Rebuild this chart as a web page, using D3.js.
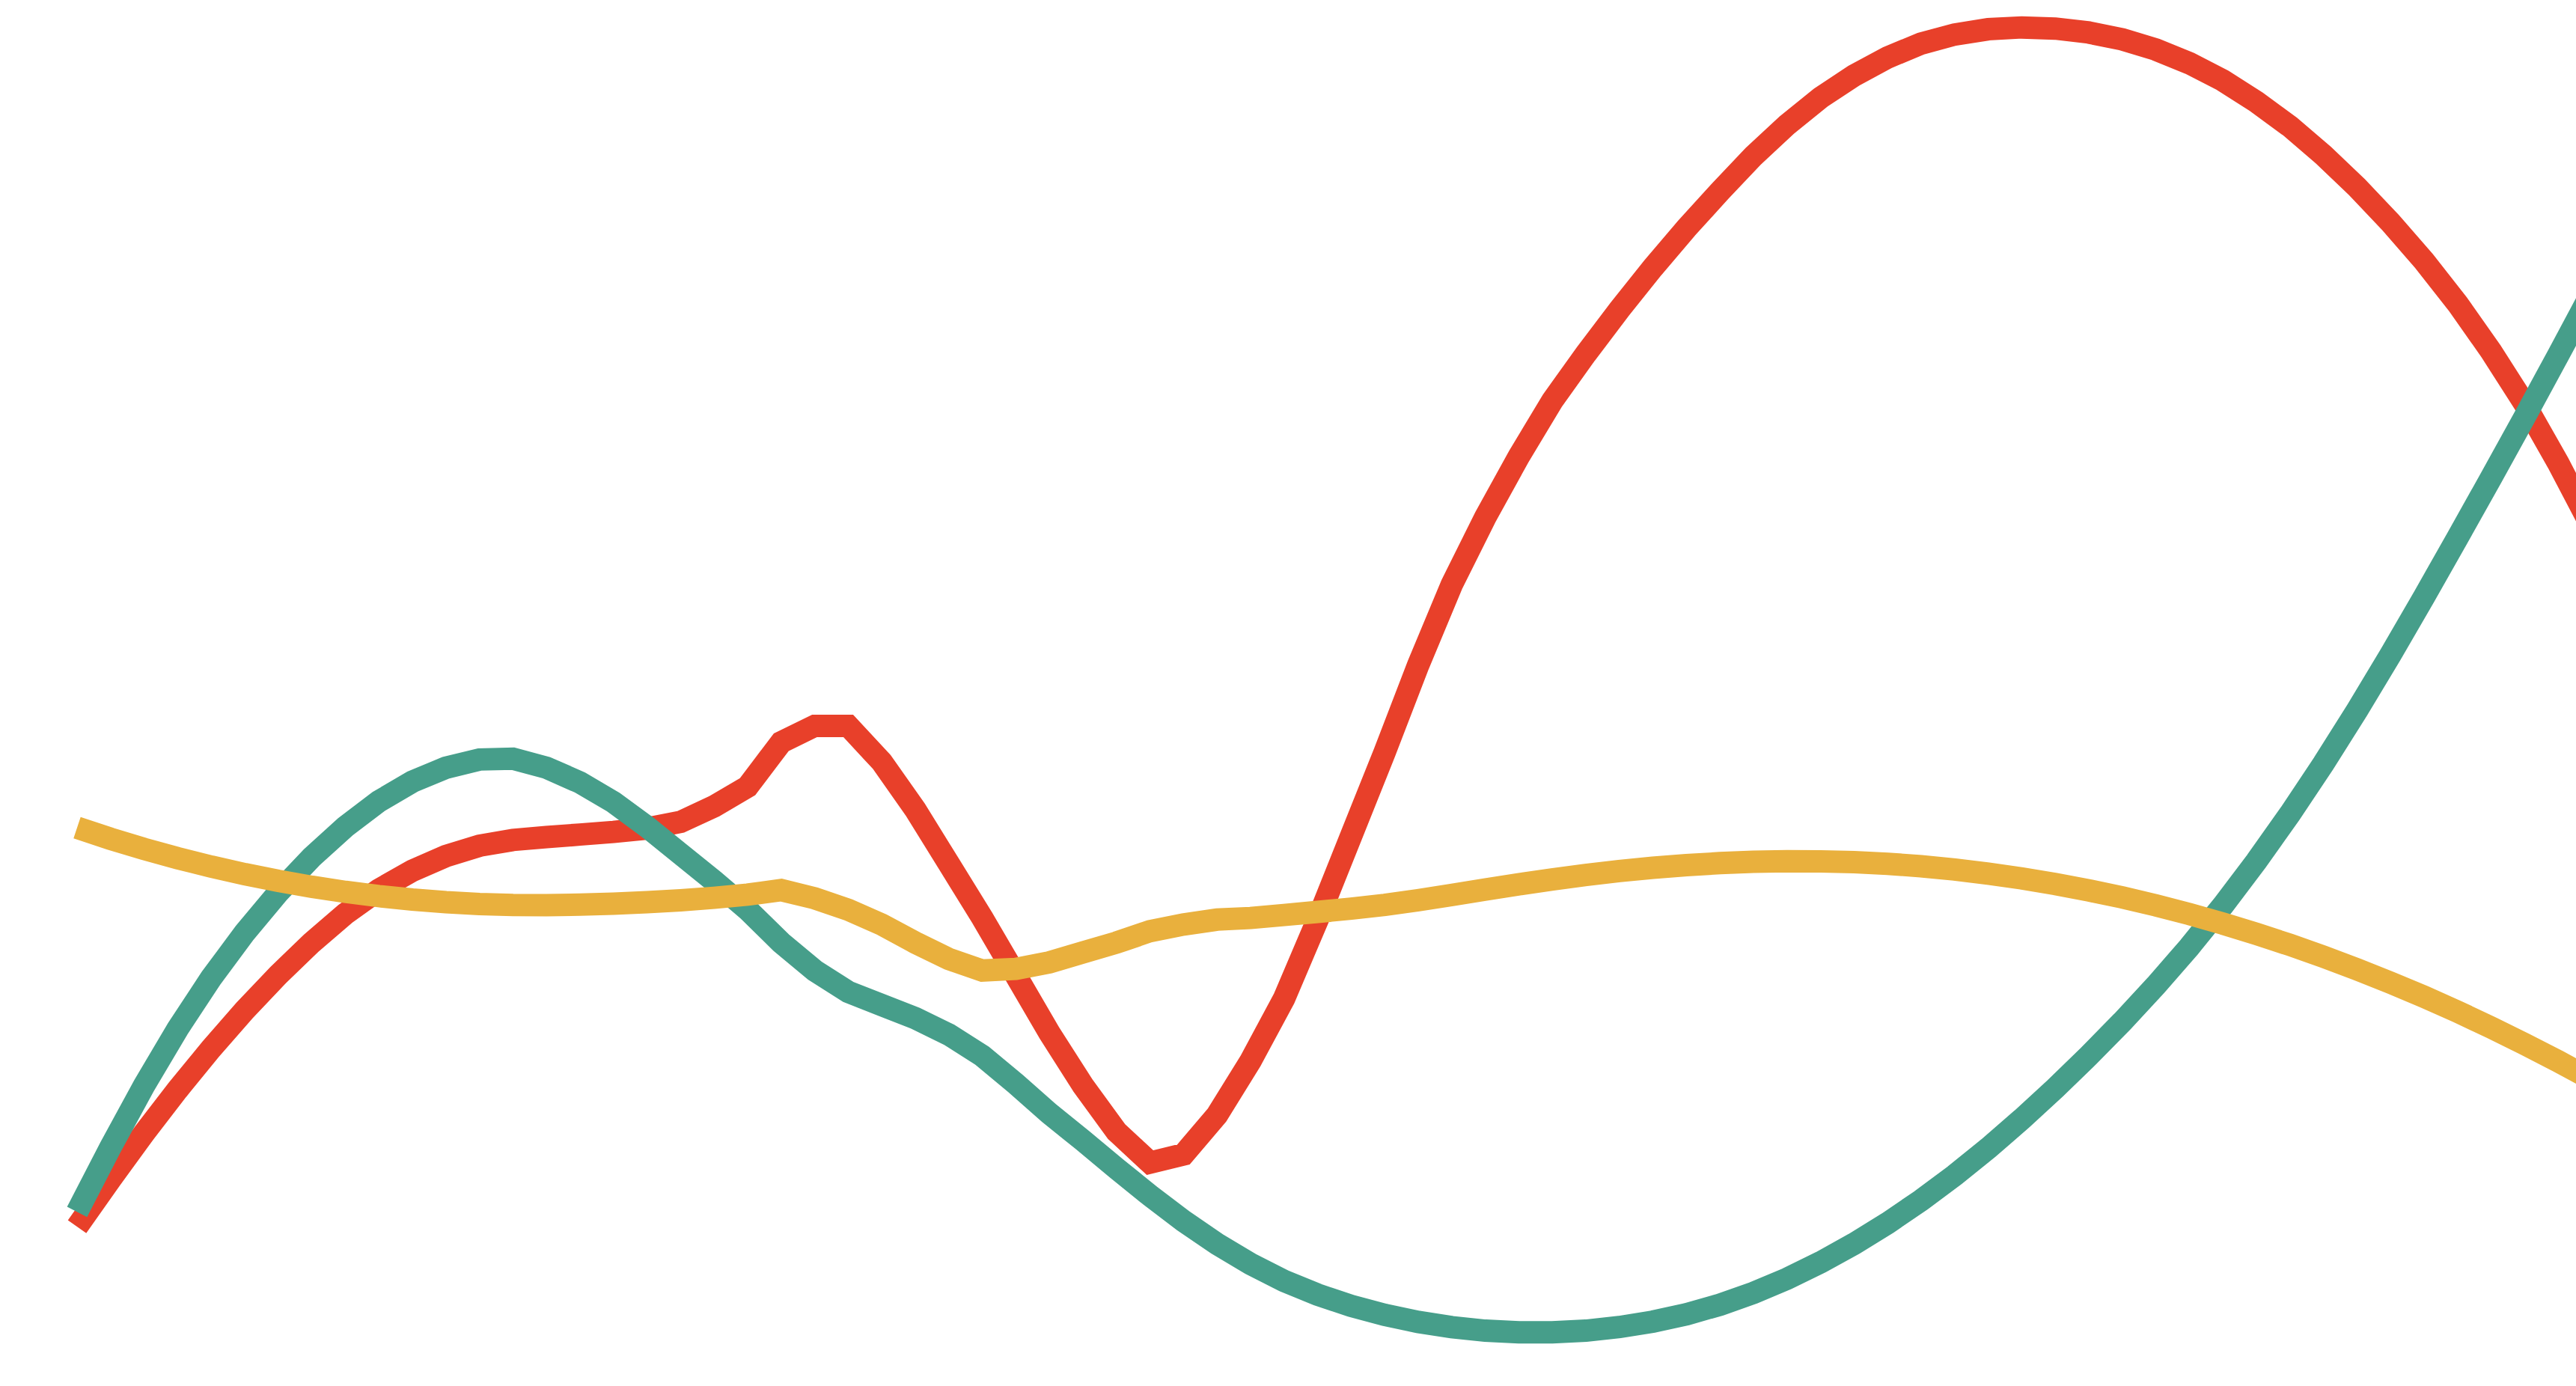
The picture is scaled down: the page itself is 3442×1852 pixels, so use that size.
<!DOCTYPE html>
<html>
<head>
    <title>Three Series Line Chart</title>
    <script src="https://d3js.org/d3.v7.min.js"></script>
    <style>
        html, body {
            margin: 0;
            padding: 0;
            background: #ffffff;
            overflow: hidden;
        }
        #chart {
            display: block;
        }
        .series-line {
            fill: none;
            stroke-width: 30;
            stroke-linecap: butt;
            stroke-linejoin: miter;
        }
    </style>
</head>
<body>
    <svg id="chart"></svg>

    <script>
        // Series values, one sample per step
        const redValues = [
            9.7, 12.6, 15.4, 18.05, 20.55, 22.88, 25.03, 27.0, 28.75, 30.22,
            31.38, 32.27, 32.9, 33.25, 33.43, 33.58, 33.74, 33.95, 34.35, 35.3,
            36.5, 39.2, 40.2, 40.2, 38.0, 35.1, 31.8, 28.5, 25.0, 21.5,
            18.3, 15.5, 13.6, 14.1, 16.5, 19.8, 23.6, 28.4, 33.5, 38.6,
            43.9, 48.8, 52.9, 56.6, 60.0, 62.85, 65.55, 68.1, 70.5, 72.75,
            74.9, 76.8, 78.45, 79.8, 80.9, 81.75, 82.3, 82.62, 82.73, 82.66,
            82.42, 82.0, 81.38, 80.55, 79.5, 78.2, 76.7, 74.95, 73.0, 70.85,
            68.5, 65.9, 63.0, 59.8, 56.2, 52.3
        ];

        const tealValues = [
            10.6, 14.55, 18.3, 21.75, 24.85, 27.6, 30.05, 32.2, 34.05, 35.6,
            36.8, 37.65, 38.15, 38.2, 37.65, 36.75, 35.55, 34.05, 32.4, 30.75,
            29.0, 27.0, 25.3, 24.0, 23.2, 22.4, 21.4, 20.1, 18.4, 16.6,
            14.95, 13.25, 11.6, 10.05, 8.65, 7.43, 6.4, 5.56, 4.88, 4.33,
            3.9, 3.58, 3.37, 3.27, 3.27, 3.37, 3.59, 3.92, 4.37, 4.95,
            5.67, 6.53, 7.53, 8.66, 9.92, 11.31, 12.83, 14.48, 16.25, 18.13,
            20.11, 22.19, 24.39, 26.74, 29.26, 31.96, 34.84, 37.9, 41.14, 44.54,
            48.06, 51.66, 55.31, 59.01, 62.77, 66.59
        ];

        const yellowValues = [
            34.0, 33.32, 32.7, 32.14, 31.63, 31.17, 30.76, 30.4, 30.09, 29.83,
            29.62, 29.46, 29.35, 29.29, 29.28, 29.31, 29.37, 29.46, 29.58, 29.73,
            29.92, 30.2, 29.7, 29.0, 28.1, 27.0, 26.0, 25.3, 25.4, 25.8,
            26.4, 27.0, 27.7, 28.1, 28.4, 28.5, 28.68, 28.87, 29.07, 29.3,
            29.58, 29.9, 30.23, 30.55, 30.85, 31.12, 31.36, 31.56, 31.72, 31.84,
            31.92, 31.96, 31.95, 31.9, 31.8, 31.65, 31.45, 31.2, 30.91, 30.57,
            30.18, 29.75, 29.27, 28.74, 28.16, 27.53, 26.86, 26.14, 25.37, 24.56,
            23.7, 22.79, 21.83, 20.82, 19.77, 18.67
        ];

        const seriesNames = ['red', 'teal', 'yellow'];
        const seriesColors = ['#e8402a', '#469e8a', '#e9b03d'];

        // Canvas setup
        const width = 3442;
        const height = 1852;

        const svg = d3.select('#chart')
            .attr('width', width)
            .attr('height', height)
            .attr('viewBox', `0 0 ${width} ${height}`);

        svg.append('rect')
            .attr('width', width)
            .attr('height', height)
            .attr('fill', '#ffffff');

        // Scales - the plot runs off the right edge, so the last step lands past it
        const stepCount = redValues.length;
        const xScale = d3.scaleLinear()
            .domain([0, stepCount - 1])
            .range([103, 103 + (stepCount - 1) * 44.8]);

        const yScale = d3.scaleLinear()
            .domain([0, 84.4])
            .range([height, 0]);

        const line = d3.line()
            .x((d, i) => xScale(i))
            .y(d => yScale(d))
            .curve(d3.curveLinear);

        // Draw order: red first, teal over it, yellow on top
        const allSeries = [redValues, tealValues, yellowValues];

        svg.append('g')
            .attr('class', 'lines')
            .selectAll('path')
            .data(allSeries)
            .join('path')
            .attr('class', (d, i) => `series-line series-${seriesNames[i]}`)
            .attr('stroke', (d, i) => seriesColors[i])
            .attr('d', d => line(d));

        console.log('Lines drawn:', allSeries.map(s => s.length));
    </script>
</body>
</html>
